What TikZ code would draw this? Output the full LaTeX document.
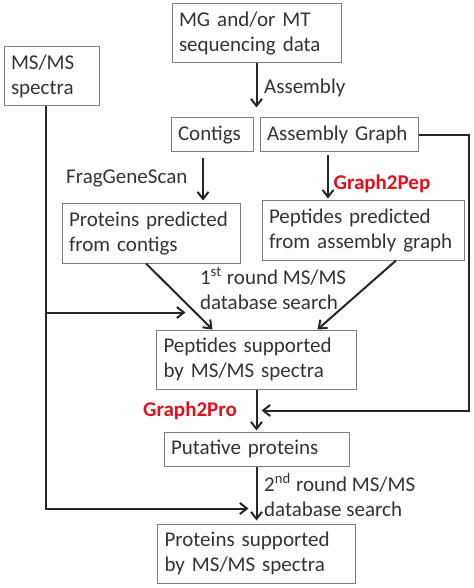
\documentclass[tikz,border=0pt]{standalone}
\usepackage{fontspec}
\setmainfont{Carlito}
\usepackage{xcolor}
\usepackage{tikz}
\usetikzlibrary{arrows.meta, positioning, calc}
\definecolor{inkgray}{HTML}{333333}
\definecolor{boxgray}{HTML}{7F7F7F}
\definecolor{linegray}{HTML}{262626}
\definecolor{toolred}{HTML}{E3101C}
\tikzset{
  box/.style={
    rectangle, draw=boxgray, line width=0.5pt,
    text=inkgray, align=left,
    inner xsep=3.5pt, inner ysep=3pt,
    font=\fontsize{10.5}{12.5}\selectfont
  },
  onebox/.style={box, minimum height=17pt},
  twobox/.style={box, minimum height=29.5pt},
  arr/.style={-{Straight Barb[length=3.5pt,width=5.5pt]}, draw=linegray, line width=1pt},
  lbl/.style={text=inkgray, align=left, font=\fontsize{10.5}{12.5}\selectfont},
  toollbl/.style={text=toolred, font=\fontsize{10.5}{12.5}\selectfont\bfseries}
}

\begin{document}
\begin{tikzpicture}
  \useasboundingbox (0,0) rectangle (237pt,-294pt);

  % ---- Nodes ----
  \node[twobox, text width=77.5pt] (mg) at (128.25pt,-16.75pt) {MG and/or MT\\sequencing data};

  \node[twobox, text width=40.5pt, below left=21.5pt and 36pt of mg.north west] (msms) {MS/MS\\spectra};

  \node[onebox, text width=34pt, below left=27pt and 1.5pt of mg.south]  (contigs)  {Contigs};
  \node[onebox, text width=72pt, below right=27pt and 1.5pt of mg.south] (asmgraph) {Assembly Graph};

  % predictions
  \node[twobox, text width=82pt, below left=25.5pt and 6.5pt of contigs.south east] (protpred) {Proteins predicted\\from contigs};
  \node[twobox, text width=94pt, below right=24pt and 1pt of asmgraph.south west]   (peppred)  {Peptides predicted\\from assembly graph};

  % central column
  \node[twobox, text width=93pt, below=133pt of mg]        (pepsup)   {Peptides supported\\by MS/MS spectra};
  \node[onebox, text width=85.5pt, below=21pt of pepsup]   (putative) {Putative proteins};
  \node[twobox, text width=92pt, below=28.5pt of putative] (protsup)  {Proteins supported\\by MS/MS spectra};

  \node[lbl, above right=20.75pt and 18.5pt of pepsup.north west, anchor=west] (round1)
    {1\textsuperscript{st} round MS/MS\\database search};

  % ---- Helper points ----
  \coordinate (fgstop)   at ([xshift=-4.5pt]contigs.south);
  \coordinate (g2ptop)   at ([xshift=-5.5pt]asmgraph.south);
  \coordinate (msfoot)   at ([xshift=-2.75pt]msms.south);
  \coordinate (ms1end)   at ([xshift=-35.5pt, yshift=8.5pt]pepsup.north);
  \coordinate (ms2end)   at ([yshift=7.5pt]protsup.north);
  \coordinate (g2promid) at ($(pepsup.south)!0.5!(putative.north)$);

  % ---- Arrows ----
  \draw[arr, shorten >=5pt] (mg) -- node[lbl, right, pos=0.45]{Assembly} (mg |- asmgraph.north);

  \draw[arr, shorten <=3pt, shorten >=1.5pt] (fgstop) -- node[lbl, left=4pt]{FragGeneScan} (fgstop |- protpred.north);
  \draw[arr, shorten <=1.5pt, shorten >=1pt] (g2ptop) -- node[toollbl, right=-1pt, pos=0.65]{Graph2Pep} (g2ptop |- peppred.north);

  \draw[arr] ([xshift=-2.5pt]protpred.south) -- ([xshift=-22pt]pepsup.north);
  \draw[arr] ([xshift=16.5pt]peppred.south) -- ([xshift=30.5pt]pepsup.north);

  \draw[arr, shorten >=0.5pt] (pepsup) -- node[toollbl, left=6pt]{Graph2Pro} (putative);
  \draw[arr, shorten >=1.5pt] (putative) -- node[lbl, right]{2\textsuperscript{nd} round MS/MS\\database search} (protsup);

  % MS/MS spectra feed
  \draw[arr, shorten >=4pt] (msfoot) |- (ms2end);
  \draw[arr] (msfoot |- ms1end) -- (ms1end);

  % assembly graph feed into Graph2Pro
  \draw[arr, shorten >=2.5pt] (asmgraph.east) -- ++(25pt,0) |- (g2promid);

\end{tikzpicture}
\end{document}
